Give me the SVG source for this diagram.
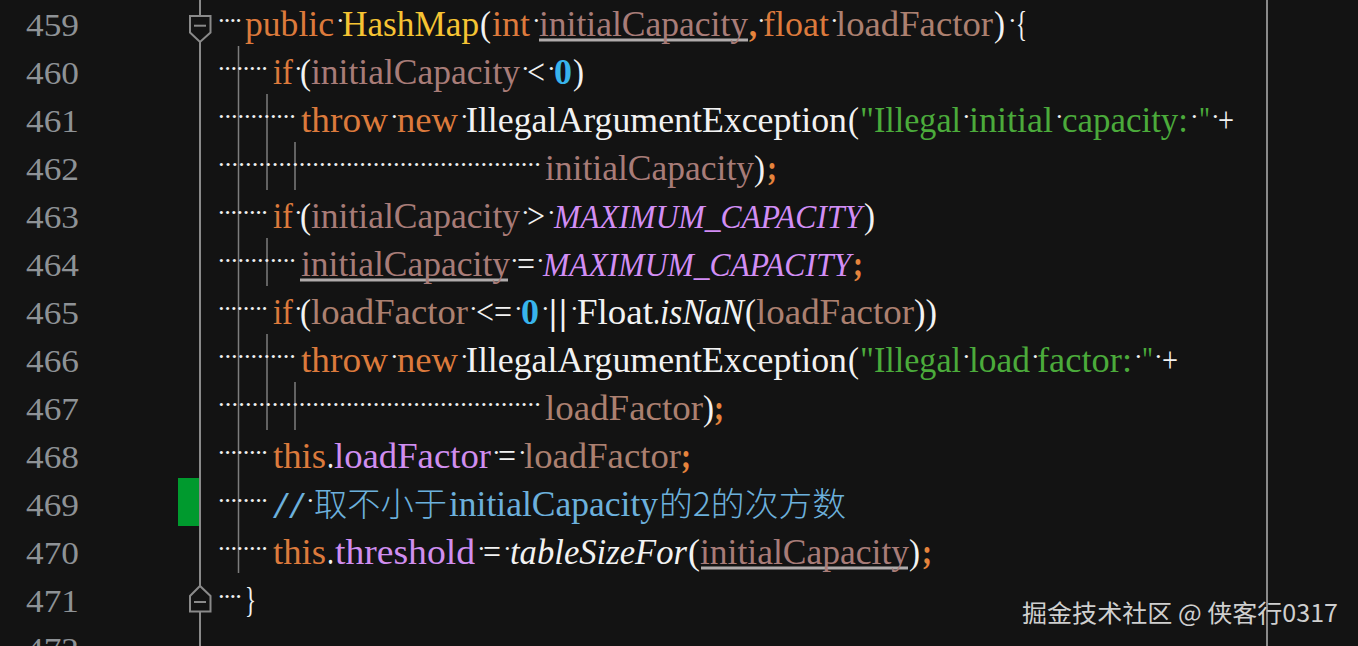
<svg xmlns="http://www.w3.org/2000/svg" width="1358" height="646" viewBox="0 0 1358 646">
<style>
text{font-family:"Liberation Serif","Noto Sans CJK SC",serif;font-size:35px;white-space:pre}
.n{fill:#8e9296;font-size:31px}
.d{fill:#f0f0f0;font-size:26px}
.k{fill:#dc7a3c}.h{fill:#f6c433}.w{fill:#f2f2f2}.p{fill:#a87c78}.q{fill:#ac8070}.c{fill:#38b4ec;font-weight:bold}
.s{fill:#4bab3b}.m{fill:#d28ef5;font-style:italic;font-size:33px}.f{fill:#d08ef0}.i{fill:#f2f2f2;font-style:italic}.o{fill:#e6843c;font-weight:bold}
.g{fill:#6cb0dc}.z{font-family:"Noto Sans CJK SC",sans-serif;font-weight:300;font-size:33px}
.sl{font-size:38px}
.l{stroke:#7d7d7d;stroke-width:1.500;fill:none}
.b{stroke:#8a8a8a;stroke-width:2;fill:none}
.u{stroke:#b0abab;stroke-width:3;fill:none}
.wm{font-family:"Noto Sans CJK SC",sans-serif;font-size:24px;fill:#cfcfcf}
</style>
<rect width="1358" height="646" fill="#131313"/>
<rect x="178" y="478" width="22" height="48" fill="#009a2e"/>
<g id="guides">
<path class="b" d="M200 0V15M200 42V586M200 612V646M1267 0V646"/>
<path class="l" d="M238.500 46V573M267 94V190M295 142V190M267 238V286M267 334V430M295 382V430"/>
<path class="b" d="M190 16H210.500V32.500L200 42L190 32.500Z"/>
<path class="b" d="M194 25.700H206"/>
<path class="b" d="M190 611.500H210.500V596L200 586L190 596Z"/>
<path class="b" d="M194 602H206"/>
</g>
<g id="underlines" class="u">
<path d="M539 40H748M300 280H508M701 568H908"/>
</g>
<g id="r459"><text class="n" x="26" y="36" textLength="53" lengthAdjust="spacingAndGlyphs">459</text>
<text class="d" x="217" y="28.500" textLength="26">····</text><text class="k" x="245" y="36" textLength="89" lengthAdjust="spacingAndGlyphs">public</text><text class="d" x="336" y="28.500">·</text><text class="h" x="342" y="36" textLength="137" lengthAdjust="spacingAndGlyphs">HashMap</text><text class="w" x="480" y="36" textLength="11" lengthAdjust="spacingAndGlyphs">(</text><text class="k" x="492" y="36" textLength="38" lengthAdjust="spacingAndGlyphs">int</text><text class="d" x="532" y="28.500">·</text><text class="p" x="539" y="36" textLength="209" lengthAdjust="spacingAndGlyphs">initialCapacity</text><text class="o" x="749" y="36" textLength="8" lengthAdjust="spacingAndGlyphs">,</text><text class="d" x="757" y="28.500">·</text><text class="k" x="763" y="36" textLength="66" lengthAdjust="spacingAndGlyphs">float</text><text class="d" x="830" y="28.500">·</text><text class="q" x="836" y="36" textLength="157" lengthAdjust="spacingAndGlyphs">loadFactor</text><text class="w" x="994" y="36" textLength="11" lengthAdjust="spacingAndGlyphs">)</text><text class="d" x="1008" y="28.500">·</text><text class="w" x="1016" y="36" textLength="11" lengthAdjust="spacingAndGlyphs">{</text></g>
<g id="r460" transform="translate(0,48)"><text class="n" x="26" y="36" textLength="53" lengthAdjust="spacingAndGlyphs">460</text>
<text class="d" x="217" y="28.500" textLength="52">········</text><text class="k" x="273" y="36" textLength="20" lengthAdjust="spacingAndGlyphs">if</text><text class="d" x="294" y="28.500">·</text><text class="w" x="300" y="36" textLength="11" lengthAdjust="spacingAndGlyphs">(</text><text class="p" x="311" y="36" textLength="209" lengthAdjust="spacingAndGlyphs">initialCapacity</text><text class="d" x="521" y="28.500">·</text><text class="w" x="527" y="36" textLength="18" lengthAdjust="spacingAndGlyphs">&lt;</text><text class="d" x="547" y="28.500">·</text><text class="c" x="554" y="36" textLength="18" lengthAdjust="spacingAndGlyphs">0</text><text class="w" x="573" y="36" textLength="11" lengthAdjust="spacingAndGlyphs">)</text></g>
<g id="r461" transform="translate(0,96)"><text class="n" x="26" y="36" textLength="53" lengthAdjust="spacingAndGlyphs">461</text>
<text class="d" x="217" y="28.500" textLength="80">············</text><text class="k" x="301" y="36" textLength="87" lengthAdjust="spacingAndGlyphs">throw</text><text class="d" x="390" y="28.500">·</text><text class="k" x="397" y="36" textLength="61" lengthAdjust="spacingAndGlyphs">new</text><text class="d" x="460" y="28.500">·</text><text class="w" x="466" y="36" textLength="381" lengthAdjust="spacingAndGlyphs">IllegalArgumentException</text><text class="w" x="848" y="36" textLength="11" lengthAdjust="spacingAndGlyphs">(</text><text class="s" x="860" y="36" textLength="101" lengthAdjust="spacingAndGlyphs">"Illegal</text><text class="d" x="962" y="28.500">·</text><text class="s" x="969" y="36" textLength="84" lengthAdjust="spacingAndGlyphs">initial</text><text class="d" x="1055" y="28.500">·</text><text class="s" x="1062" y="36" textLength="126" lengthAdjust="spacingAndGlyphs">capacity:</text><text class="d" x="1190" y="28.500">·</text><text class="s" x="1199" y="36" textLength="11" lengthAdjust="spacingAndGlyphs">"</text><text class="d" x="1211" y="28.500">·</text><text class="w" x="1218" y="36" textLength="16" lengthAdjust="spacingAndGlyphs">+</text></g>
<g id="r462" transform="translate(0,144)"><text class="n" x="26" y="36" textLength="53" lengthAdjust="spacingAndGlyphs">462</text>
<text class="d" x="217" y="28.500" textLength="325">················································</text><text class="p" x="545" y="36" textLength="209" lengthAdjust="spacingAndGlyphs">initialCapacity</text><text class="w" x="754" y="36" textLength="11" lengthAdjust="spacingAndGlyphs">)</text><text class="o" x="767" y="36" textLength="10" lengthAdjust="spacingAndGlyphs">;</text></g>
<g id="r463" transform="translate(0,192)"><text class="n" x="26" y="36" textLength="53" lengthAdjust="spacingAndGlyphs">463</text>
<text class="d" x="217" y="28.500" textLength="52">········</text><text class="k" x="273" y="36" textLength="20" lengthAdjust="spacingAndGlyphs">if</text><text class="d" x="294" y="28.500">·</text><text class="w" x="300" y="36" textLength="11" lengthAdjust="spacingAndGlyphs">(</text><text class="p" x="311" y="36" textLength="209" lengthAdjust="spacingAndGlyphs">initialCapacity</text><text class="d" x="521" y="28.500">·</text><text class="w" x="527" y="36" textLength="18" lengthAdjust="spacingAndGlyphs">&gt;</text><text class="d" x="547" y="28.500">·</text><text class="m" x="554" y="36" textLength="308" lengthAdjust="spacingAndGlyphs">MAXIMUM_CAPACITY</text><text class="w" x="864" y="36" textLength="11" lengthAdjust="spacingAndGlyphs">)</text></g>
<g id="r464" transform="translate(0,240)"><text class="n" x="26" y="36" textLength="53" lengthAdjust="spacingAndGlyphs">464</text>
<text class="d" x="217" y="28.500" textLength="80">············</text><text class="p" x="301" y="36" textLength="209" lengthAdjust="spacingAndGlyphs">initialCapacity</text><text class="d" x="510" y="28.500">·</text><text class="w" x="517" y="36" textLength="18" lengthAdjust="spacingAndGlyphs">=</text><text class="d" x="536" y="28.500">·</text><text class="m" x="543" y="36" textLength="308" lengthAdjust="spacingAndGlyphs">MAXIMUM_CAPACITY</text><text class="o" x="853" y="36" textLength="10" lengthAdjust="spacingAndGlyphs">;</text></g>
<g id="r465" transform="translate(0,288)"><text class="n" x="26" y="36" textLength="53" lengthAdjust="spacingAndGlyphs">465</text>
<text class="d" x="217" y="28.500" textLength="52">········</text><text class="k" x="273" y="36" textLength="20" lengthAdjust="spacingAndGlyphs">if</text><text class="d" x="294" y="28.500">·</text><text class="w" x="300" y="36" textLength="11" lengthAdjust="spacingAndGlyphs">(</text><text class="q" x="311" y="36" textLength="157" lengthAdjust="spacingAndGlyphs">loadFactor</text><text class="d" x="469" y="28.500">·</text><text class="w" x="476" y="36" textLength="36" lengthAdjust="spacingAndGlyphs">&lt;=</text><text class="d" x="514" y="28.500">·</text><text class="c" x="521" y="36" textLength="18" lengthAdjust="spacingAndGlyphs">0</text><text class="d" x="541" y="28.500">·</text><text class="w" x="548" y="36" textLength="20" lengthAdjust="spacingAndGlyphs">||</text><text class="d" x="570" y="28.500">·</text><text class="w" x="577" y="36" textLength="76" lengthAdjust="spacingAndGlyphs">Float</text><text class="w" x="653" y="36" textLength="7" lengthAdjust="spacingAndGlyphs">.</text><text class="i" x="660" y="36" textLength="84" lengthAdjust="spacingAndGlyphs">isNaN</text><text class="w" x="745" y="36" textLength="11" lengthAdjust="spacingAndGlyphs">(</text><text class="q" x="756" y="36" textLength="158" lengthAdjust="spacingAndGlyphs">loadFactor</text><text class="w" x="914" y="36" textLength="23" lengthAdjust="spacingAndGlyphs">))</text></g>
<g id="r466" transform="translate(0,336)"><text class="n" x="26" y="36" textLength="53" lengthAdjust="spacingAndGlyphs">466</text>
<text class="d" x="217" y="28.500" textLength="80">············</text><text class="k" x="301" y="36" textLength="87" lengthAdjust="spacingAndGlyphs">throw</text><text class="d" x="390" y="28.500">·</text><text class="k" x="397" y="36" textLength="61" lengthAdjust="spacingAndGlyphs">new</text><text class="d" x="460" y="28.500">·</text><text class="w" x="466" y="36" textLength="381" lengthAdjust="spacingAndGlyphs">IllegalArgumentException</text><text class="w" x="848" y="36" textLength="11" lengthAdjust="spacingAndGlyphs">(</text><text class="s" x="860" y="36" textLength="101" lengthAdjust="spacingAndGlyphs">"Illegal</text><text class="d" x="962" y="28.500">·</text><text class="s" x="969" y="36" textLength="61" lengthAdjust="spacingAndGlyphs">load</text><text class="d" x="1031" y="28.500">·</text><text class="s" x="1037" y="36" textLength="95" lengthAdjust="spacingAndGlyphs">factor:</text><text class="d" x="1134" y="28.500">·</text><text class="s" x="1142" y="36" textLength="11" lengthAdjust="spacingAndGlyphs">"</text><text class="d" x="1154" y="28.500">·</text><text class="w" x="1162" y="36" textLength="16" lengthAdjust="spacingAndGlyphs">+</text></g>
<g id="r467" transform="translate(0,384)"><text class="n" x="26" y="36" textLength="53" lengthAdjust="spacingAndGlyphs">467</text>
<text class="d" x="217" y="28.500" textLength="325">················································</text><text class="q" x="545" y="36" textLength="158" lengthAdjust="spacingAndGlyphs">loadFactor</text><text class="w" x="703" y="36" textLength="11" lengthAdjust="spacingAndGlyphs">)</text><text class="o" x="714" y="36" textLength="10" lengthAdjust="spacingAndGlyphs">;</text></g>
<g id="r468" transform="translate(0,432)"><text class="n" x="26" y="36" textLength="53" lengthAdjust="spacingAndGlyphs">468</text>
<text class="d" x="217" y="28.500" textLength="52">········</text><text class="k" x="273" y="36" textLength="53" lengthAdjust="spacingAndGlyphs">this</text><text class="w" x="327" y="36" textLength="7" lengthAdjust="spacingAndGlyphs">.</text><text class="f" x="334" y="36" textLength="157" lengthAdjust="spacingAndGlyphs">loadFactor</text><text class="d" x="492" y="28.500">·</text><text class="w" x="498" y="36" textLength="18" lengthAdjust="spacingAndGlyphs">=</text><text class="d" x="518" y="28.500">·</text><text class="q" x="524" y="36" textLength="157" lengthAdjust="spacingAndGlyphs">loadFactor</text><text class="o" x="681" y="36" textLength="10" lengthAdjust="spacingAndGlyphs">;</text></g>
<g id="r469" transform="translate(0,480)"><text class="n" x="26" y="36" textLength="53" lengthAdjust="spacingAndGlyphs">469</text>
<text class="d" x="217" y="28.500" textLength="52">········</text><text class="g sl" x="273" y="38" textLength="32" lengthAdjust="spacingAndGlyphs">//</text><text class="d" x="306" y="28.500">·</text><text class="g z" x="314" y="36" textLength="133" lengthAdjust="spacingAndGlyphs">取不小于</text><text class="g" x="449" y="36" textLength="209" lengthAdjust="spacingAndGlyphs">initialCapacity</text><text class="g z" x="659" y="36" textLength="187" lengthAdjust="spacingAndGlyphs">的2的次方数</text></g>
<g id="r470" transform="translate(0,528)"><text class="n" x="26" y="36" textLength="53" lengthAdjust="spacingAndGlyphs">470</text>
<text class="d" x="217" y="28.500" textLength="52">········</text><text class="k" x="273" y="36" textLength="53" lengthAdjust="spacingAndGlyphs">this</text><text class="w" x="327" y="36" textLength="7" lengthAdjust="spacingAndGlyphs">.</text><text class="f" x="335" y="36" textLength="140" lengthAdjust="spacingAndGlyphs">threshold</text><text class="d" x="477" y="28.500">·</text><text class="w" x="483" y="36" textLength="18" lengthAdjust="spacingAndGlyphs">=</text><text class="d" x="503" y="28.500">·</text><text class="i" x="510" y="36" textLength="177" lengthAdjust="spacingAndGlyphs">tableSizeFor</text><text class="w" x="688" y="36" textLength="12" lengthAdjust="spacingAndGlyphs">(</text><text class="p" x="700" y="36" textLength="209" lengthAdjust="spacingAndGlyphs">initialCapacity</text><text class="w" x="909" y="36" textLength="11" lengthAdjust="spacingAndGlyphs">)</text><text class="o" x="922" y="36" textLength="10" lengthAdjust="spacingAndGlyphs">;</text></g>
<g id="r471" transform="translate(0,576)"><text class="n" x="26" y="36" textLength="53" lengthAdjust="spacingAndGlyphs">471</text>
<text class="d" x="217" y="28.500" textLength="26">····</text><text class="w" x="245" y="36" textLength="11" lengthAdjust="spacingAndGlyphs">}</text></g>
<g id="r472" transform="translate(0,624)"><text class="n" x="26" y="36" textLength="53" lengthAdjust="spacingAndGlyphs">472</text></g>
<text class="wm" x="1022" y="622" textLength="316" lengthAdjust="spacingAndGlyphs">掘金技术社区 @ 侠客行0317</text>
</svg>
